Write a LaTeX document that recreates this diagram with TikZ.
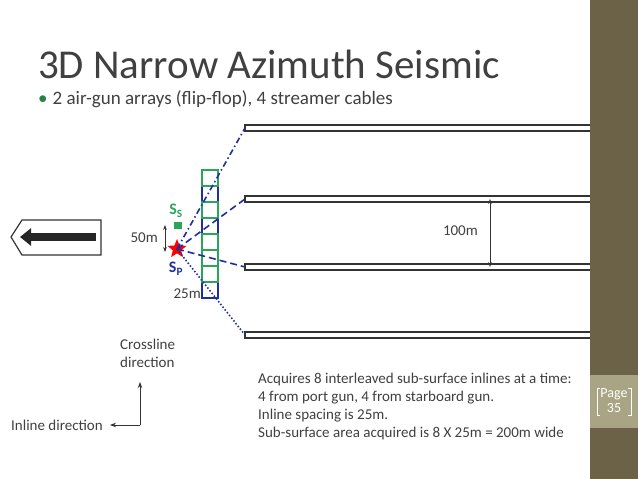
\documentclass[tikz,border=0pt]{standalone}
\usepackage{fontspec}
\setmainfont{Carlito}
\usetikzlibrary{arrows.meta,shapes.geometric}
\definecolor{side}{HTML}{6B6248}
\definecolor{pg}{HTML}{A9A584}
\definecolor{tx}{HTML}{404040}
\definecolor{gr}{HTML}{2AA55A}
\definecolor{bl}{HTML}{1F2FA0}
\tikzset{x=1pt,y=-1pt,
 streamer/.style={draw=black!80,line width=1.3pt,fill=white},
 gbox/.style={draw=gr,line width=1.2pt},
 bbox/.style={draw=bl,line width=1.2pt},
 ray/.style={draw=bl,line width=1.6pt},
 lbl/.style={font=\fontsize{15}{17}\selectfont,text=tx,inner sep=0pt},
 dim/.style={draw=black!80,line width=0.9pt,{Stealth[length=5pt]}-{Stealth[length=5pt]}}}
\begin{document}
\begin{tikzpicture}
\useasboundingbox (0,0) rectangle (638,479);
\fill[white] (0,0) rectangle (590,479);
\fill[side] (590,0) rectangle (638,479);
\fill[pg] (590,375) rectangle (638,428);
\node[text=white,font=\fontsize{14}{15}\selectfont,align=center] (page) at (614,401) {Page\\35};
\draw[white,line width=0.7pt] (600,388) -- ++(-3,0) -- ++(0,27) -- ++(3,0) (628,388) -- ++(3,0) -- ++(0,27) -- ++(-3,0);
\node[anchor=base west,inner sep=0pt,font=\fontsize{41}{44}\selectfont,text=tx] (title) at (38,78) {3D Narrow Azimuth Seismic};
\node[anchor=base west,inner sep=0pt,font=\fontsize{19}{21}\selectfont,text=tx] (bul) at (38,104) {\textcolor{gr!80!black}{•}\hspace{5pt}2 air-gun arrays (flip-flop), 4 streamer cables};
% streamers
\foreach \n/\y in {a/128,b/199,c/267,d/335}{\draw[streamer] (245,\y-3) rectangle (600,\y+3); \coordinate (s\n) at (245,\y);}
\fill[side] (590,100) rectangle (638,350);
\foreach \n/\y in {a/128,b/199,c/267,d/335}{\draw[streamer] (245,\y-3) -- (590,\y-3) (245,\y+3) -- (590,\y+3);}
% boxes
\foreach \i in {1,...,8}{\draw[bbox] (202,170+\i*16-16) rectangle (218,170+\i*16);}
\foreach \i in {1,3,5,6,7}{\draw[gbox] (202,170+\i*16-16) rectangle (218,170+\i*16);}
% source
\node[star,star points=5,star point ratio=2.3,fill=red,minimum size=20pt,inner sep=0pt] (sp) at (177,249) {};
\node[fill=gr,minimum width=8pt,minimum height=7pt,inner sep=0pt] (ss) at (178,225) {};
\node[font=\bfseries\fontsize{16}{17}\selectfont,text=gr] (ssl) at (176,211) {S\textsubscript{S}};
\node[font=\bfseries\fontsize{16}{17}\selectfont,text=bl] (spl) at (176,269) {S\textsubscript{P}};
\draw[ray,dash pattern=on 6pt off 3pt on 1.5pt off 3pt] (sp.center) -- (sa);
\draw[ray,dash pattern=on 7pt off 4pt] (sp.center) -- (sb);
\draw[ray,dash pattern=on 7pt off 4pt] (sp.center) -- (sc);
\draw[ray,dash pattern=on 1.5pt off 2pt] (sp.center) -- (sd);
% dims
\coordinate (d50a) at (165,225); \coordinate (d50b) at (165,252);
\draw[dim] (d50a) -- (d50b);
\node[lbl,anchor=east] (l50) at (158,238) {50m};
\coordinate (d100a) at (490,199); \coordinate (d100b) at (490,267);
\draw[dim] (d100a) -- (d100b);
\node[lbl,anchor=east] (l100) at (478,231) {100m};
\node[lbl,anchor=east] (l25) at (201,294) {25m};
% big arrow
\draw[black!80,line width=1.2pt] (11,237) -- (22,220) -- (101,220) -- (101,255) -- (22,255) -- cycle;
\draw[black!85,line width=8pt,-{Triangle[length=11pt,width=17pt]}] (96,237) -- (20,237);
% axes
\coordinate (o) at (140,425);
\coordinate (up) at (140,382);
\coordinate (lf) at (110,425);
\draw[black!80,line width=1pt,-{Stealth[length=6pt]}] (o) -- (up);
\draw[black!80,line width=1pt,-{Stealth[length=6pt]}] (o) -- (lf);
\node[lbl,anchor=west,align=left] (cross) at (120,353) {Crossline\\[1pt]direction};
\node[lbl,anchor=east] (inl) at (103,425) {Inline direction};
\node[lbl,anchor=north west,align=left,font=\fontsize{15}{18}\selectfont] (info) at (258,373) {Acquires 8 interleaved sub-surface inlines at a time:\\4 from port gun, 4 from starboard gun.\\Inline spacing is 25m.\\Sub-surface area acquired is 8 X 25m = 200m wide};
\end{tikzpicture}
\end{document}
